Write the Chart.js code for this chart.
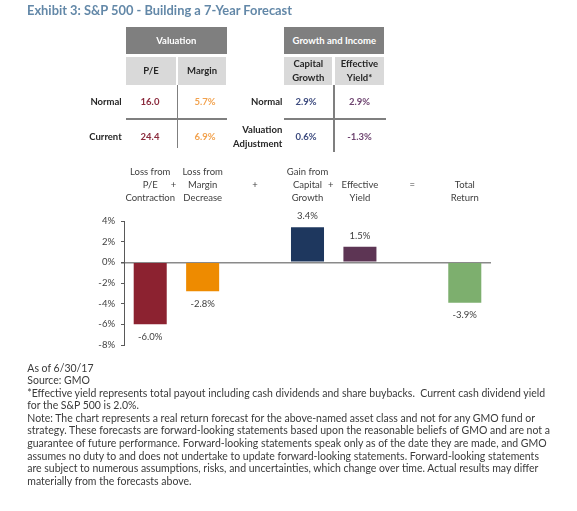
<!DOCTYPE html>
<html>
<head>
<meta charset="utf-8">
<script src="https://cdn.jsdelivr.net/npm/chart.js@4"></script>
<style>
  html,body{margin:0;padding:0;background:#fff;}
  #wrap{position:relative;width:577px;height:511px;overflow:hidden;font-family:Lato,"Open Sans",sans-serif;}
  #c{position:absolute;left:0;top:0;}
  .t{position:absolute;white-space:pre;line-height:12px;height:12px;}
  .box{position:absolute;display:flex;align-items:center;justify-content:center;text-align:center;font-weight:bold;}
  .hdr{background:#7f7f7f;color:#fff;font-size:9.5px;}
  .sub{background:#d9d9d9;color:#262626;font-size:9.5px;line-height:14px;}
  .line{position:absolute;background:#7f7f7f;}
  .rl{font-weight:bold;color:#262626;font-size:9.5px;}
  .val{font-weight:bold;font-size:9.5px;}
  .foot{color:#3a3a3a;}
</style>
</head>
<body>
<div id="wrap">
  <canvas id="c" width="577" height="511"></canvas>
</div>
<script>
// ---------- data ----------
const titleText = "Exhibit 3: S&P 500 - Building a 7-Year Forecast";

const valuationHeader = "Valuation";
const valuationCols = ["P/E", "Margin"];
const valuationRows = ["Normal", "Current"];
const peValues = ["16.0", "24.4"];
const marginValues = ["5.7%", "6.9%"];

const growthHeader = "Growth and Income";
const growthCols = [["Capital", "Growth"], ["Effective", "Yield*"]];
const growthRows = [["Normal"], ["Valuation", "Adjustment"]];
const capitalGrowthValues = ["2.9%", "0.6%"];
const effectiveYieldValues = ["2.9%", "-1.3%"];

const categories = ["Loss from P/E Contraction", "Loss from Margin Decrease", "+",
                    "Gain from Capital Growth", "Effective Yield", "=", "Total Return"];
const headerLines = [
  ["Loss from", "P/E", "Contraction"],
  ["Loss from", "Margin", "Decrease"],
  ["", "+", ""],
  ["Gain from", "Capital", "Growth"],
  ["", "Effective", "Yield"],
  ["", "=", ""],
  ["", "Total", "Return"]
];
const betweenOps = [[0, "+"], [3, "+"]]; // operator drawn after category index
const returnValues = [-6.0, -2.8, null, 3.4, 1.5, null, -3.9];
const barColors = ["#8c2230", "#ee8b00", "#ffffff", "#1e375e", "#5d3554", "#ffffff", "#7daf6e"];
const yTicks = [-8, -6, -4, -2, 0, 2, 4];

const footLines = [
  "As of 6/30/17",
  "Source: GMO",
  "*Effective yield represents total payout including cash dividends and share buybacks.  Current cash dividend yield",
  "for the S&P 500 is 2.0%.",
  "Note: The chart represents a real return forecast for the above-named asset class and not for any GMO fund or",
  "strategy. These forecasts are forward-looking statements based upon the reasonable beliefs of GMO and are not a",
  "guarantee of future performance. Forward-looking statements speak only as of the date they are made, and GMO",
  "assumes no duty to and does not undertake to update forward-looking statements. Forward-looking statements",
  "are subject to numerous assumptions, risks, and uncertainties, which change over time. Actual results may differ",
  "materially from the forecasts above."
];

// ---------- helpers ----------
const wrap = document.getElementById('wrap');
const mctx = document.createElement('canvas').getContext('2d');
function fitSize(text, weight, target, family) {
  mctx.font = weight + ' 20px ' + family;
  return 20 * target / mctx.measureText(text).width;
}
function place(text, x, y, align, cls, color, extra) {
  const d = document.createElement('div');
  d.className = 't ' + (cls || '');
  d.textContent = text;
  d.style.top = (y - 6) + 'px';
  if (align === 'center') { d.style.left = x + 'px'; d.style.transform = 'translateX(-50%)'; }
  else if (align === 'right') { d.style.right = (577 - x) + 'px'; }
  else { d.style.left = x + 'px'; }
  if (color) d.style.color = color;
  if (extra) Object.assign(d.style, extra);
  wrap.appendChild(d);
  return d;
}
function box(text, l, t, w, h, cls) {
  const d = document.createElement('div');
  d.className = 'box ' + cls;
  d.innerHTML = Array.isArray(text) ? text.join('<br>') : text;
  Object.assign(d.style, {left: l + 'px', top: t + 'px', width: w + 'px', height: h + 'px'});
  wrap.appendChild(d);
}
function line(l, t, w, h) {
  const d = document.createElement('div');
  d.className = 'line';
  Object.assign(d.style, {left: l + 'px', top: t + 'px', width: w + 'px', height: h + 'px'});
  wrap.appendChild(d);
}

// ---------- title ----------
const fam = 'Lato';
const titleSize = fitSize(titleText, 'bold', 266, fam);
place(titleText, 27, 10, 'left', '', '#6388a8', {fontWeight: 'bold', fontSize: titleSize + 'px', lineHeight: '12px'});

// ---------- valuation table ----------
box(valuationHeader, 126, 26.5, 100.5, 27, 'hdr');
box(valuationCols[0], 126, 56.7, 50, 28, 'sub');
box(valuationCols[1], 177.7, 56.7, 48.8, 28, 'sub');
line(176.6, 85, 1.5, 63);
line(126, 118.3, 101, 1.5);
const rowY = [102.3, 137.3];
valuationRows.forEach((r, i) => place(r, 121.7, rowY[i], 'right', 'rl'));
peValues.forEach((v, i) => place(v, 150, rowY[i], 'center', 'val', '#8b2a3c'));
marginValues.forEach((v, i) => place(v, 205, rowY[i], 'center', 'val', '#f2a24e'));

// ---------- growth table ----------
box(growthHeader, 284.3, 26.5, 100, 27, 'hdr');
box(growthCols[0], 284.3, 56.7, 48, 28, 'sub');
box(growthCols[1], 334.7, 56.7, 49.6, 28, 'sub');
line(333.3, 85, 1.5, 67);
line(284, 118, 101.5, 1.5);
place(growthRows[0][0], 282.3, 101.7, 'right', 'rl');
place(growthRows[1][0], 282.3, 130, 'right', 'rl');
place(growthRows[1][1], 282.3, 143.5, 'right', 'rl');
capitalGrowthValues.forEach((v, i) => place(v, 306, rowY[i], 'center', 'val', '#3c4a7e'));
effectiveYieldValues.forEach((v, i) => place(v, 359.5, rowY[i], 'center', 'val', '#6e4470'));

// ---------- footnote ----------
const footSize = fitSize(footLines[2], 'normal', 519, fam);
footLines.forEach((s, i) => place(s, 27.3, 367.7 + i * 12.55, 'left', 'foot', null, {fontSize: footSize + 'px'}));

// ---------- chart ----------
const labelFont = '9.5px Lato';
const headerPlugin = {
  id: 'headerPlugin',
  afterDraw(chart) {
    const ctx = chart.ctx, xs = chart.scales.x, top = chart.chartArea.top;
    const ys = [top - 48.7, top - 36, top - 23.3];
    ctx.save();
    ctx.font = labelFont;
    ctx.fillStyle = '#404040';
    ctx.textAlign = 'center';
    ctx.textBaseline = 'middle';
    headerLines.forEach((lines, i) => {
      const x = xs.getPixelForValue(i);
      lines.forEach((s, j) => { if (s) ctx.fillText(s, x, ys[j]); });
    });
    betweenOps.forEach(([i, sym]) => {
      const x = (xs.getPixelForValue(i) + xs.getPixelForValue(i + 1)) / 2 - 3;
      ctx.fillText(sym, x, ys[1]);
    });
    ctx.restore();
  }
};
const valueLabelPlugin = {
  id: 'valueLabelPlugin',
  afterDatasetsDraw(chart) {
    const ctx = chart.ctx;
    const meta = chart.getDatasetMeta(0);
    ctx.save();
    ctx.font = labelFont;
    ctx.fillStyle = '#404040';
    ctx.textAlign = 'center';
    ctx.textBaseline = 'middle';
    meta.data.forEach((el, i) => {
      const v = returnValues[i];
      if (v === null) return;
      const y = v >= 0 ? el.y - 11 : el.y + 12.7;
      ctx.fillText(v.toFixed(1) + '%', el.x, y);
    });
    ctx.restore();
  }
};

new Chart(document.getElementById('c'), {
  type: 'bar',
  data: {
    labels: categories,
    datasets: [{
      data: returnValues,
      backgroundColor: barColors,
      barPercentage: 0.63,
      categoryPercentage: 1.0,
      borderWidth: 0
    }]
  },
  options: {
    responsive: false,
    animation: false,
    devicePixelRatio: 1,
    layout: { padding: { top: 221, bottom: 166, left: 0, right: 86 } },
    plugins: { legend: { display: false }, tooltip: { enabled: false }, title: { display: false } },
    scales: {
      x: { display: false, offset: true },
      y: {
        min: -8, max: 4,
        afterFit(scale) { scale.width = 124; },
        afterBuildTicks(scale) { scale.ticks = yTicks.map(v => ({ value: v })); },
        border: { display: true, color: '#595959', width: 1 },
        grid: {
          drawOnChartArea: true,
          drawTicks: true,
          tickLength: 3,
          lineWidth: ctx => (ctx.tick && ctx.tick.value === 0) ? 1.5 : 1,
          color: ctx => (ctx.tick && ctx.tick.value === 0) ? '#8a8a8a' : 'rgba(0,0,0,0)',
          tickColor: '#595959'
        },
        ticks: {
          padding: 6,
          color: '#404040',
          font: { family: 'Lato', size: 9.5 },
          callback: v => v + '%'
        }
      }
    }
  },
  plugins: [headerPlugin, valueLabelPlugin]
});
</script>
</body>
</html>
